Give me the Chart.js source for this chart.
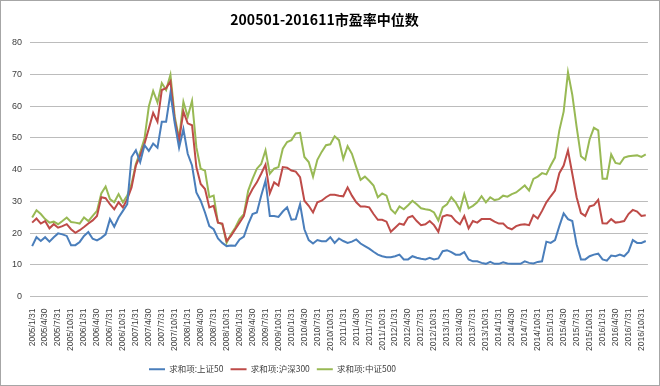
<!DOCTYPE html>
<html>
<head>
<meta charset="utf-8">
<script src="https://cdn.jsdelivr.net/npm/chart.js@4.4.0/dist/chart.umd.min.js"></script>
<style>
	html, body { margin: 0; padding: 0; background: #fff; }
	canvas { display: block; }
</style>
</head>
<body>
<canvas id="grafico-pe" width="660" height="386"></canvas>
<script>
	var titolo = '200501-201611市盈率中位数';
	var nomiSerie = ['求和项:上证50', '求和项:沪深300', '求和项:中证500'];
	var coloriSerie = ['#4a7ebb', '#be4b48', '#98b954'];

	// valori, uno per mese (2005/1 -> 2016/11)
	var sz50 = [15.9,18.7,17.5,18.7,17.3,18.7,19.9,19.6,19.1,16.2,16.2,17.2,
		19.1,20.3,18.2,17.7,18.5,19.6,24.4,22.0,24.9,27.0,29.1,44.0,
		46.1,42.4,47.7,45.9,48.2,46.9,55.1,55.1,64.1,54.6,46.9,52.8,
		45.0,41.3,32.8,30.2,26.5,22.2,21.2,18.3,16.9,15.9,16.1,16.0,
		18.0,18.9,22.8,26.0,26.5,31.8,36.5,25.4,25.4,25.1,26.8,28.1,
		24.2,24.4,29.1,21.2,17.8,16.7,17.8,17.4,17.4,18.7,16.9,18.3,
		17.5,16.9,17.3,18.0,16.7,15.9,15.1,14.1,13.2,12.7,12.4,12.4,
		12.7,13.2,11.7,11.7,12.7,12.2,11.9,11.7,12.2,11.7,12.0,14.3,
		14.6,14.0,13.2,13.2,14.0,11.7,11.1,11.1,10.6,10.3,10.9,10.3,
		10.3,10.8,10.4,10.3,10.3,10.3,11.1,10.6,10.4,10.9,11.1,17.3,
		16.9,17.8,22.2,26.2,24.4,23.8,16.4,11.7,11.7,12.7,13.2,13.5,
		11.7,11.3,12.9,12.7,13.2,12.7,14.1,17.8,16.9,16.9,17.5];

	var hs300 = [23.3,24.6,23.0,23.8,21.5,22.8,21.7,22.2,22.8,21.2,20.1,20.9,
		21.9,23.0,24.0,25.4,31.3,31.0,29.1,27.5,29.7,28.1,30.7,34.4,
		41.3,44.5,48.2,53.0,57.9,55.1,65.1,65.7,67.8,55.6,49.3,58.3,
		54.6,54.0,40.8,35.5,33.9,28.1,28.6,23.3,23.0,17.5,19.1,21.2,
		23.3,25.4,31.3,33.9,36.0,38.7,41.6,32.6,36.0,35.0,40.8,40.6,
		39.7,39.4,37.6,30.2,28.6,26.5,29.7,30.2,31.3,32.1,32.1,31.8,
		31.6,34.4,31.8,29.7,28.4,28.4,28.1,26.0,24.2,24.2,23.6,20.4,
		21.7,23.0,22.6,24.9,25.4,23.8,22.5,22.8,23.8,22.5,20.4,25.2,
		25.7,25.4,23.8,22.8,25.4,21.5,23.8,23.3,24.4,24.4,24.4,23.6,
		23.0,23.0,21.7,21.2,22.2,22.6,22.8,22.5,25.7,24.6,27.0,29.7,
		31.6,33.4,38.9,41.3,46.1,38.7,31.3,26.3,25.4,28.4,28.8,30.5,
		23.1,23.0,24.4,23.3,23.5,23.8,26.0,27.3,26.8,25.4,25.6];

	var zz500 = [24.9,27.2,26.0,24.4,23.3,23.6,22.8,23.8,24.9,23.5,23.3,23.0,
		24.9,23.8,25.4,27.0,32.5,34.7,30.7,29.7,32.3,29.7,31.8,35.5,
		41.8,45.5,49.8,59.9,64.8,61.2,67.3,65.1,69.9,56.7,49.8,61.4,
		56.7,61.7,47.1,40.3,39.7,31.3,31.8,23.3,22.8,16.9,19.6,21.7,
		24.4,26.0,33.4,37.1,40.3,41.8,46.1,38.7,40.3,40.8,46.6,48.7,
		49.3,51.4,51.6,44.0,42.4,37.8,43.1,45.6,47.7,48.0,50.5,49.3,
		43.4,47.4,45.0,40.8,36.8,37.8,36.5,35.0,31.3,32.5,31.8,27.5,
		26.2,28.4,27.5,28.8,30.2,29.1,27.8,27.5,27.3,26.5,24.0,28.1,
		29.1,31.3,29.7,27.2,32.3,27.8,28.6,29.7,31.6,29.7,31.3,30.4,
		30.7,31.8,31.5,32.3,32.8,33.9,35.0,33.4,37.1,37.8,38.9,38.5,
		41.3,43.8,52.4,58.3,70.7,63.6,53.5,44.2,43.1,49.5,53.2,52.4,
		37.1,37.1,44.8,42.1,41.8,43.8,44.2,44.4,44.5,44.0,44.8];

	var yMin = 0;
	var yMax = 80;
	var yPasso = 10;

	// etichette: fine mese, da 2005/1/31 a 2016/11/30
	var mesi = [];
	for (var anno = 2005; anno <= 2016; anno++) {
		for (var m = 1; m <= 12; m++) {
			if (anno === 2016 && m > 11) break;
			mesi.push(anno + '/' + m + '/' + new Date(anno, m, 0).getDate());
		}
	}

	var serie = [sz50, hs300, zz500];
	var datasets = [];
	for (var i = 0; i < serie.length; i++) {
		datasets.push({
			label: nomiSerie[i],
			data: serie[i],
			borderColor: coloriSerie[i],
			backgroundColor: coloriSerie[i],
			borderWidth: 2,
			pointRadius: 0,
			tension: 0,
			fill: false
		});
	}

	// sfondo, cornice e posizione della legenda (in Excel non e' centrata)
	var cornice = {
		id: 'cornice',
		beforeDraw: function (chart) {
			var ctx = chart.ctx;
			ctx.save();
			ctx.fillStyle = '#fff';
			ctx.fillRect(0, 0, chart.width, chart.height);
			ctx.strokeStyle = '#a6a6a6';
			ctx.lineWidth = 1;
			ctx.strokeRect(0.5, 0.5, chart.width - 1, chart.height - 1);
			ctx.restore();
			var lg = chart.legend;
			var p = lg.options.labels.padding;
			lg.left = 149 - p;
			lg.right = 640;
			lg.top = 365 - p;
			lg.bottom = 386;
		}
	};

	var fontTesto = "'Liberation Sans Narrow', 'Noto Sans CJK SC', sans-serif";

	var chart = new Chart(document.getElementById('grafico-pe'), {
		type: 'line',
		data: {
			labels: mesi,
			datasets: datasets
		},
		options: {
			responsive: false,
			animation: false,
			devicePixelRatio: 1,
			layout: { padding: { left: 0, right: 11, top: 0, bottom: 0 } },
			plugins: {
				title: {
					display: true,
					text: titolo,
					color: '#000',
					font: { family: fontTesto, size: 14, weight: 'bold' },
					padding: { top: 11, bottom: 15 }
				},
				legend: {
					position: 'bottom',
					align: 'start',
					labels: {
						usePointStyle: true,
						pointStyle: 'line',
						pointStyleWidth: 16,
						padding: 7,
						color: '#404040',
						font: { family: fontTesto, size: 8.5 }
					}
				},
				tooltip: { enabled: false }
			},
			scales: {
				x: {
					offset: true,
					grid: { display: false },
					border: { display: false },
					ticks: {
						autoSkip: false,
						maxRotation: 90,
						minRotation: 90,
						padding: 4,
						color: '#404040',
						font: { family: "'Liberation Sans', sans-serif", size: 8.5 },
						callback: function (val, idx) {
							return idx % 3 === 0 ? this.getLabelForValue(val) : '';
						}
					},
					afterFit: function (scale) { scale.height = 64; }
				},
				y: {
					min: yMin,
					max: yMax,
					grid: { color: '#bcbcbc', drawTicks: false },
					border: { display: false },
					ticks: {
						stepSize: yPasso,
						padding: 8,
						color: '#404040',
						font: { family: "'Liberation Sans', sans-serif", size: 9 }
					},
					afterFit: function (scale) { scale.width = 30; }
				}
			}
		},
		plugins: [cornice]
	});
</script>
</body>
</html>
